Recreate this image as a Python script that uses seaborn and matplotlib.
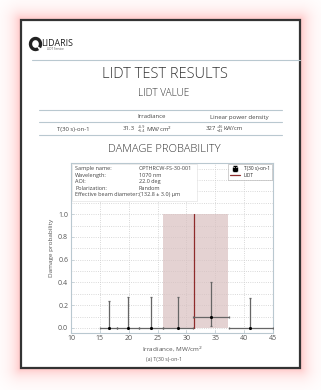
import numpy as np
import matplotlib
matplotlib.use('Agg')
import matplotlib.pyplot as plt
from matplotlib.patches import Rectangle, Arc
from matplotlib.ticker import MultipleLocator
import seaborn as sns

#%% data
bin_lo = [15.0, 18.0, 21.7, 26.0, 31.2, 37.3]
bin_hi = [18.0, 21.7, 26.0, 31.2, 37.3, 45.0]
irradiance = [16.5, 19.9, 23.8, 28.5, 34.2, 41.0]
probability = [0.0, 0.0, 0.0, 0.0, 0.1, 0.0]
prob_low = [0.0, 0.0, 0.0, 0.0, 0.02, 0.0]
prob_high = [0.24, 0.275, 0.275, 0.275, 0.40, 0.26]

lidt = 31.3
lidt_minus = 5.4
lidt_plus = 5.9

info_keys = ['Sample name:', 'Wavelength:', 'AOI:', 'Polarization:']
info_vals = ['OPTHRCW-FS-30-001', '1070 nm', '22.0 deg', 'Random']
beam_line = 'Effective beam diameter:(132.8 ± 3.0) μm'

#%% style
sns.set_theme(style='whitegrid')
plt.rcParams['font.family'] = ['Open Sans', 'DejaVu Sans']

W, H = 321, 390
fig = plt.figure(figsize=(W / 100, H / 100), dpi=100)

# background / page in pixel coords
bg = fig.add_axes([0, 0, 1, 1])
bg.set_xlim(0, W)
bg.set_ylim(H, 0)
bg.axis('off')

px, py = np.meshgrid(np.arange(W) + 0.5, np.arange(H) + 0.5)
x0, x1, y0, y1 = 21, 300, 20, 368
dx = np.maximum(np.maximum(x0 - px, px - x1), 0)
dy = np.maximum(np.maximum(y0 - py, py - y1), 0)
d = np.hypot(dx, dy)
k = 0.24 * np.exp(-d / 8.0)
img = np.ones((H, W, 3))
img[..., 1] -= k
img[..., 2] -= k
bg.imshow(img, extent=[0, W, H, 0], aspect='auto', zorder=0)
bg.add_patch(Rectangle((x0, y0), x1 - x0, y1 - y0, facecolor='white',
                       edgecolor='#333333', lw=1.6, zorder=1))

txtc = '#444444'
linec = '#b9c8d0'

# logo
bg.add_patch(Arc((35.5, 44), 10, 11, theta1=60, theta2=400, lw=2.4, color='#222222', zorder=2))
bg.text(41, 43.5, 'LIDARIS', fontsize=6.4, color='#222222', va='center', ha='left', zorder=2)
bg.text(47, 49.5, 'LIDT Service', fontsize=2.2, color='#555555', va='center', ha='left', zorder=2)
bg.plot([32, 300], [60, 60], color=linec, lw=0.8, zorder=2)

# titles
bg.text(165, 74, 'LIDT TEST RESULTS', fontsize=10.5, fontweight='light', color='#333333',
        ha='center', va='center', zorder=2)
bg.text(164, 94, 'LIDT VALUE', fontsize=7.2, fontweight='light', color='#333333',
        ha='center', va='center', zorder=2)

# table
for yy in [110, 122, 135]:
    bg.plot([39, 282], [yy, yy], color=linec, lw=0.8, zorder=2)
fs = 4.3
bg.text(152, 117, 'Irradiance', fontsize=fs, color=txtc, ha='center', va='center', zorder=2)
bg.text(239, 117, 'Linear power density', fontsize=fs, color=txtc, ha='center', va='center', zorder=2)
bg.text(73, 129, 'T(30 s)-on-1', fontsize=fs, color=txtc, ha='center', va='center', zorder=2)

bg.text(123, 129, '31.3', fontsize=fs, color=txtc, ha='left', va='center', zorder=2)
bg.text(137.5, 126.6, '+5.9', fontsize=2.6, color=txtc, ha='left', va='center', zorder=2)
bg.text(137.5, 131.4, '−5.4', fontsize=2.6, color=txtc, ha='left', va='center', zorder=2)
bg.text(146, 129, r'MW/cm$^2$', fontsize=fs, color=txtc, ha='left', va='center', zorder=2)

bg.text(206, 129, '327', fontsize=fs, color=txtc, ha='left', va='center', zorder=2)
bg.text(216.5, 126.6, '+46', fontsize=2.6, color=txtc, ha='left', va='center', zorder=2)
bg.text(216.5, 131.4, '−43', fontsize=2.6, color=txtc, ha='left', va='center', zorder=2)
bg.text(224, 129, 'kW/cm', fontsize=fs, color=txtc, ha='left', va='center', zorder=2)

bg.text(164, 150, 'DAMAGE PROBABILITY', fontsize=8, fontweight='light', color='#333333',
        ha='center', va='center', zorder=2)

#%% chart
ax_top, ax_bot = 163, 332.5
ax = fig.add_axes([71 / W, 1 - ax_bot / H, (273 - 71) / W, (ax_bot - ax_top) / H])
ax.set_facecolor('white')

ax.fill_between([lidt - lidt_minus, lidt + lidt_plus], 0, 1, color='#d9c0c0', alpha=0.7,
                lw=0, zorder=1)
lidt_line, = ax.plot([lidt, lidt], [0, 1], color='#8e2b2b', lw=0.9, zorder=3)

x = np.array(irradiance)
y = np.array(probability)
xerr = [x - np.array(bin_lo), np.array(bin_hi) - x]
yerr = [y - np.array(prob_low), np.array(prob_high) - y]
ax.errorbar(x, y, xerr=xerr, yerr=yerr, fmt='none', ecolor='#666666', elinewidth=0.9,
            capsize=0.8, capthick=0.9, zorder=4)
sns.scatterplot(x=irradiance, y=probability, ax=ax, color='black', s=5, edgecolor='black',
                linewidth=0, zorder=5)
# legend proxy, kept outside the view
h_err = ax.errorbar([-100], [-100], xerr=[1], yerr=[1], fmt='s', color='black', ms=1.6,
                    ecolor='black', elinewidth=0.8, capsize=1.2)

ax.set_xlim(10, 45)
ax.set_ylim(-0.04, 1.45)
ax.set_xticks(np.arange(10, 46, 5))
ax.set_yticks([0, 0.2, 0.4, 0.6, 0.8, 1.0])
ax.set_yticklabels(['0.0', '0.2', '0.4', '0.6', '0.8', '1.0'])
ax.yaxis.set_minor_locator(MultipleLocator(0.1))
ax.grid(True, which='both', axis='y', color='#cccccc', ls=':', lw=0.6)
ax.grid(True, which='major', axis='x', color='#cccccc', ls=':', lw=0.6)
ax.tick_params(which='major', direction='in', length=2, width=0.5, color=linec,
               labelsize=5, labelcolor='#555555', pad=2, bottom=True, left=True)
ax.tick_params(which='minor', length=0)
for s in ax.spines.values():
    s.set_color(linec)
    s.set_linewidth(0.8)

ax.set_xlabel(r'Irradiance, MW/cm$^2$', fontsize=4.6, color='#555555', labelpad=1.5)
ax.set_ylabel('Damage probability', fontsize=4.6, color='#555555', labelpad=3)

# info box, one text per line
ah = ax_bot - ax_top
def ay(ypx):
    return 1 - (ypx - ax_top) / ah

ax.add_patch(Rectangle((0.005, ay(200.5)), 0.62, ay(164) - ay(200.5), transform=ax.transAxes,
                       facecolor='white', edgecolor='#dddddd', lw=0.4, zorder=6))
ifs = 4.0
for i, (k_, v_) in enumerate(zip(info_keys, info_vals)):
    yy = ay(168.5 + 6.6 * i)
    ax.text(0.02, yy, k_, transform=ax.transAxes, fontsize=ifs, color=txtc,
            va='center', ha='left', zorder=7)
    ax.text(0.335, yy, v_, transform=ax.transAxes, fontsize=ifs, color=txtc,
            va='center', ha='left', zorder=7)
ax.text(0.02, ay(168.5 + 6.6 * 4), beam_line, transform=ax.transAxes, fontsize=ifs,
        color=txtc, va='center', ha='left', zorder=7)

leg = ax.legend([h_err, lidt_line], ['T(30 s)-on-1', 'LIDT'], loc='upper right',
                fontsize=3.4, frameon=True, fancybox=False, edgecolor='#999999',
                borderpad=0.4, handlelength=2.0, labelspacing=0.3, borderaxespad=0.3)
leg.get_frame().set_linewidth(0.4)

fig.text(164 / W, 1 - 360 / H, '(a) T(30 s)-on-1', fontsize=3.8, color='#555555',
         ha='center', va='center')

fig.savefig('out.png', dpi=100)
